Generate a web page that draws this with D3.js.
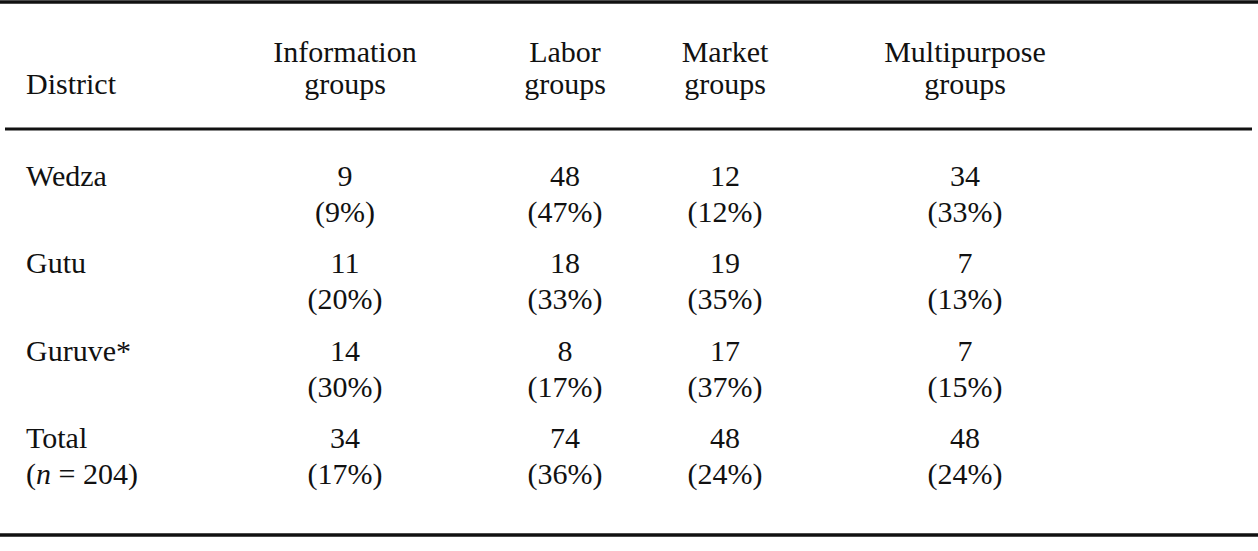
<!DOCTYPE html>
<html><head><meta charset="utf-8">
<script src="https://cdn.jsdelivr.net/npm/d3@7"></script>
<style>body{margin:0;background:#fff}text{font-family:"Liberation Serif","DejaVu Serif",serif;fill:#111}</style>
</head><body><svg id="tbl"></svg>
<script>
const width = 1258, height = 551;
const svg = d3.select("#tbl").attr("width", width).attr("height", height);

// Table data
const headers = [["District", ""], ["Information", "groups"], ["Labor", "groups"], ["Market", "groups"], ["Multipurpose", "groups"]];
const districts = [["Wedza", ""], ["Gutu", ""], ["Guruve*", ""], ["Total", "(n = 204)"]];
const counts = [[9, 48, 12, 34], [11, 18, 19, 7], [14, 8, 17, 7], [34, 74, 48, 48]];
const shares = [[9, 47, 12, 33], [20, 33, 35, 13], [30, 17, 37, 15], [17, 36, 24, 24]];

const colX = d3.scaleOrdinal().domain(d3.range(5)).range([26, 345, 565, 725, 965]);
const rowY = d3.scaleLinear().domain([0, 3]).range([186, 448]);
const fs = 30;
const gap = 36;

// rules
[[2, 3.5, 0, width], [129, 3, 5, width - 6], [535, 3.5, 0, width]].forEach(([y, w, a, b]) =>
  svg.append("line").attr("x1", a).attr("x2", b).attr("y1", y).attr("y2", y)
    .attr("stroke", "#111").attr("stroke-width", w));

// header
headers.forEach((h, i) => {
  const t = svg.append("text").attr("font-size", fs)
    .attr("text-anchor", i === 0 ? "start" : "middle").attr("x", colX(i));
  if (i === 0) t.attr("y", 94).text(h[0]);
  else {
    t.append("tspan").attr("x", colX(i)).attr("y", 62).text(h[0]);
    t.append("tspan").attr("x", colX(i)).attr("y", 94).text(h[1]);
  }
});

// body
districts.forEach((d, r) => {
  const y = rowY(r);
  const t = svg.append("text").attr("font-size", fs).attr("x", colX(0)).attr("y", y);
  if (d[0] === "Total") {
    t.text("Total");
    const t2 = svg.append("text").attr("font-size", fs).attr("x", colX(0)).attr("y", y + gap);
    t2.append("tspan").text("(");
    t2.append("tspan").attr("font-style", "italic").text("n");
    t2.append("tspan").text(" = 204)");
  } else t.text(d[0]);
  counts[r].forEach((v, c) => {
    svg.append("text").attr("font-size", fs).attr("text-anchor", "middle")
      .attr("x", colX(c + 1)).attr("y", y).text(v);
    svg.append("text").attr("font-size", fs).attr("text-anchor", "middle")
      .attr("x", colX(c + 1)).attr("y", y + gap).text("(" + shares[r][c] + "%)");
  });
});
</script></body></html>
